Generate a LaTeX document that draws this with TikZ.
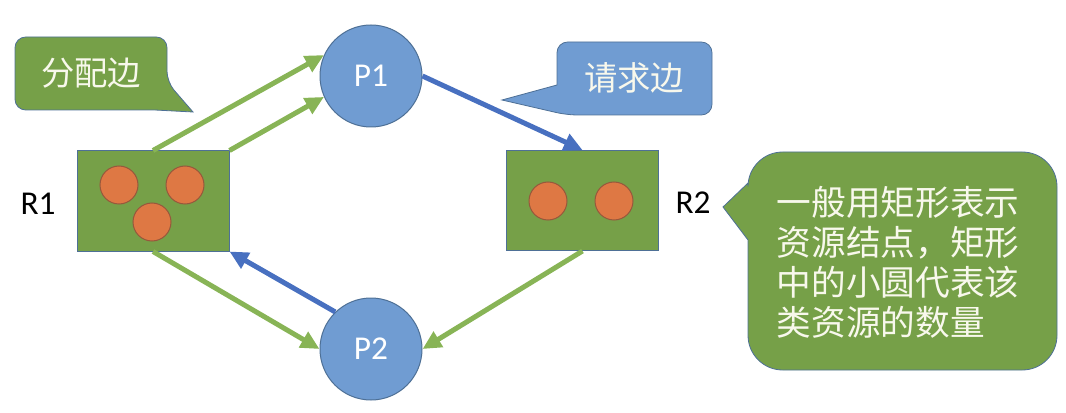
\documentclass[tikz,border=0pt]{standalone}
\usepackage{fontspec}
\setmainfont{Carlito}
\newfontfamily\cjk{Noto Sans CJK SC}
\usetikzlibrary{arrows.meta}

\definecolor{resgreen}{RGB}{118,160,72}
\definecolor{edgegreen}{RGB}{136,180,86}
\definecolor{procblue}{RGB}{112,156,210}
\definecolor{edgeblue}{RGB}{72,112,192}
\definecolor{unitorange}{RGB}{222,120,68}
\definecolor{unitline}{RGB}{150,88,60}
\definecolor{shapeline}{RGB}{78,112,150}
\definecolor{notetext}{RGB}{248,248,236}

\tikzset{
  resbox/.style={draw=shapeline, line width=0.75pt, fill=resgreen, minimum width=114pt, minimum height=75pt, inner sep=0pt},
  unit/.style={circle, draw=unitline, line width=0.75pt, fill=unitorange, minimum size=28.5pt, inner sep=0pt},
  proc/.style={circle, draw=shapeline, line width=0.75pt, fill=procblue, minimum size=76.5pt, inner sep=0pt, text=white, font=\fontsize{25}{30}\selectfont},
  reslabel/.style={font=\fontsize{25}{30}\selectfont},
  notebox/.style={draw=shapeline, line width=0.6pt},
  notelabel/.style={text=notetext, font=\cjk\fontsize{25}{30}\selectfont},
  alloc/.style={draw=edgegreen, line width=3.75pt, -{Triangle[length=14pt,width=13pt]}},
  request/.style={draw=edgeblue, line width=3.75pt, -{Triangle[length=14pt,width=13pt]}}
}

\begin{document}
\begin{tikzpicture}[x=0.75pt,y=0.75pt,yscale=-1,xscale=1]
\useasboundingbox (0,0) rectangle (1066,413);

% Callout 分配边
\draw [notebox, fill=resgreen] (91,37) [rounded corners=8pt] -- (167,37) -- (167,82) [sharp corners] -- (193,112) -- (155,110) [rounded corners=8pt] -- (15,110) -- (15,37) -- cycle;
\node [notelabel] (allocnote) at (91,73) {分配边};

% Callout 请求边
\draw [notebox, fill=procblue] (634,42) [rounded corners=8pt] -- (712,42) -- (712,115) -- (567,115) [sharp corners] -- (502,100) -- (557,85) [rounded corners=8pt] -- (557,42) -- cycle;
\node [notelabel] (requestnote) at (634,78) {请求边};

% Callout
\draw [notebox, fill=resgreen] (900,152) [rounded corners=26pt] -- (1057,152) -- (1057,370) -- (748,370) [sharp corners] -- (748,240) -- (723,207) -- (748,183) [rounded corners=26pt] -- (748,152) -- cycle;
\node [notelabel, align=left, font=\cjk\fontsize{26}{30}\selectfont] (resnote) at (898,262) {一般用矩形表示\\资源结点，矩形\\中的小圆代表该\\类资源的数量};

% Resources
\node [resbox] (R1) at (153,201) {};
\node [unit] (r1a) at (119,185) {};
\node [unit] (r1b) at (185,185) {};
\node [unit] (r1c) at (152,222) {};
\node [reslabel] (R1label) at (38,204) {R1};

\node [resbox] (R2) at (582.5,200.5) {};
\node [unit] (r2a) at (548,201) {};
\node [unit] (r2b) at (614,201) {};
\node [reslabel] (R2label) at (693,203) {R2};

% Processes
\node [proc] (P1) at (371,76) {P1};
\node [proc] (P2) at (371,349) {P2};

% Connection
\draw [alloc] (R1.north) -- (P1.156);
\draw [alloc] (R1.north east) -- (P1.204);
\draw [request] (P1.east) -- (R2.north);
\draw [alloc] (R1.south) -- (P2.west);
\draw [request] (P2.134) -- (R1.south east);
\draw [alloc] (R2.south) -- (P2.east);

\end{tikzpicture}
\end{document}
